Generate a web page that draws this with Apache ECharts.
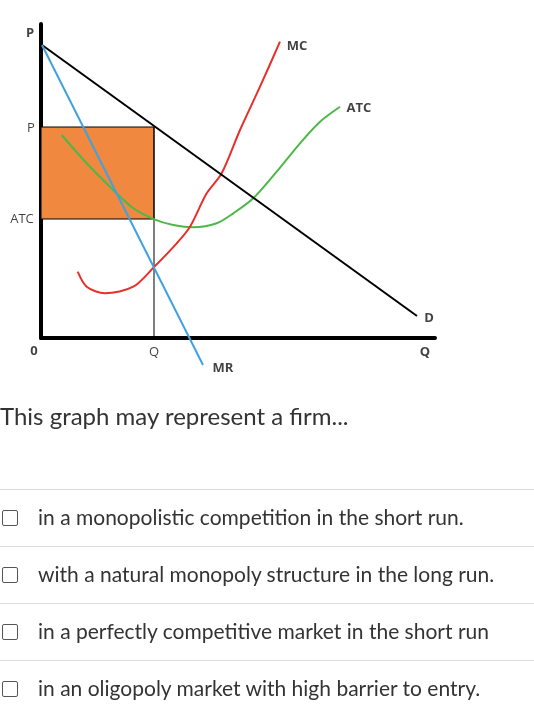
<!DOCTYPE html>
<html><head><meta charset="utf-8">
<script src="https://cdn.jsdelivr.net/npm/echarts@6/dist/echarts.min.js"></script>
<style>
body{margin:0;width:534px;height:720px;background:#fff;position:relative;font-family:Lato,sans-serif;color:#333;overflow:hidden}
#c{position:absolute;left:0;top:0;width:534px;height:720px}
.q{position:absolute;left:0;top:401px;font-size:24px}
.opt{position:absolute;left:0;width:534px;border-top:1px solid #ddd;font-size:21px;height:57px}
.opt span.b{position:absolute;left:2px;top:20px;width:14px;height:14px;border:1.5px solid #555;border-radius:2px}
.opt span.t{position:absolute;left:38px;top:14px}
</style></head><body>
<div id="c"></div>
<div class="q">This graph may represent a firm...</div>
<div class="opt" style="top:489px"><span class="b"></span><span class="t">in a monopolistic competition in the short run.</span></div>
<div class="opt" style="top:546px"><span class="b"></span><span class="t">with a natural monopoly structure in the long run.</span></div>
<div class="opt" style="top:603px"><span class="b"></span><span class="t">in a perfectly competitive market in the short run</span></div>
<div class="opt" style="top:660px"><span class="b"></span><span class="t">in an oligopoly market with high barrier to entry.</span></div>
<script>
const demand=[[1,293],[376,22]];
const mr=[[1,293],[162,-27]];
const mc=[[36.7,66.3],[45.7,51.3],[64,44.7],[92.3,51.3],[113.3,71.3],[135.7,94.7],[149,111.3],[165.7,144.7],[180.7,164.7],[199,208],[219,251.3],[239,296.3]];
const atc=[[20.7,203],[45.7,174.7],[74,146.3],[92.3,129.7],[113.3,118.7],[132.3,113],[152.3,110.7],[175.7,114.7],[192.3,124.7],[212.3,139.7],[235.7,166.3],[259,194.7],[279,216.3],[299,231.3]];
const Qstar=113, Pstar=211, ATCstar=119;
const labels=[
 {name:'P',value:[-11,305],b:true},{name:'P',value:[-10,210]},{name:'ATC',value:[-19,119]},
 {name:'0',value:[-7,-13],b:true},{name:'Q',value:[113,-14]},{name:'Q',value:[384,-14],b:true},
 {name:'MC',value:[256,292],b:true},{name:'ATC',value:[318,230],b:true},{name:'D',value:[388,20],b:true},{name:'MR',value:[182,-30],b:true}];
const ch=echarts.init(document.getElementById('c'));
const ln=(d,c,w,smooth)=>({type:'line',data:d,symbol:'none',smooth:smooth||false,clip:false,lineStyle:{color:c,width:w}});
ch.setOption({
 animation:false,
 grid:{left:41,right:99,top:24,bottom:382},
 xAxis:{type:'value',min:0,max:394,axisLine:{lineStyle:{color:'#000',width:4}},axisTick:{show:false},axisLabel:{show:false},splitLine:{show:false}},
 yAxis:{type:'value',min:0,max:314,axisLine:{show:true,lineStyle:{color:'#000',width:4}},axisTick:{show:false},axisLabel:{show:false},splitLine:{show:false}},
 series:[
  {type:'line',data:[[0,Pstar],[Qstar,Pstar]],symbol:'none',lineStyle:{width:0},
   markArea:{silent:true,itemStyle:{color:'#F0883F',borderColor:'#000',borderWidth:1},data:[[{coord:[0,ATCstar]},{coord:[Qstar,Pstar]}]]}},
  ln([[Qstar,0],[Qstar,Pstar]],'#000',1),
  ln(atc,'#4CB848',2,0.3),
  ln(mc,'#E8302A',2,0.3),
  ln(demand,'#000',2),
  ln(mr,'#3FA2E0',2),
  {type:'scatter',clip:false,symbolSize:0,data:labels.map(l=>({name:l.name,value:l.value,label:{fontWeight:l.b?'bold':'normal'}})),
   label:{show:true,position:'inside',formatter:'{b}',color:'#111',fontSize:13,fontFamily:'Open Sans'}}
 ]
});
</script></body></html>
